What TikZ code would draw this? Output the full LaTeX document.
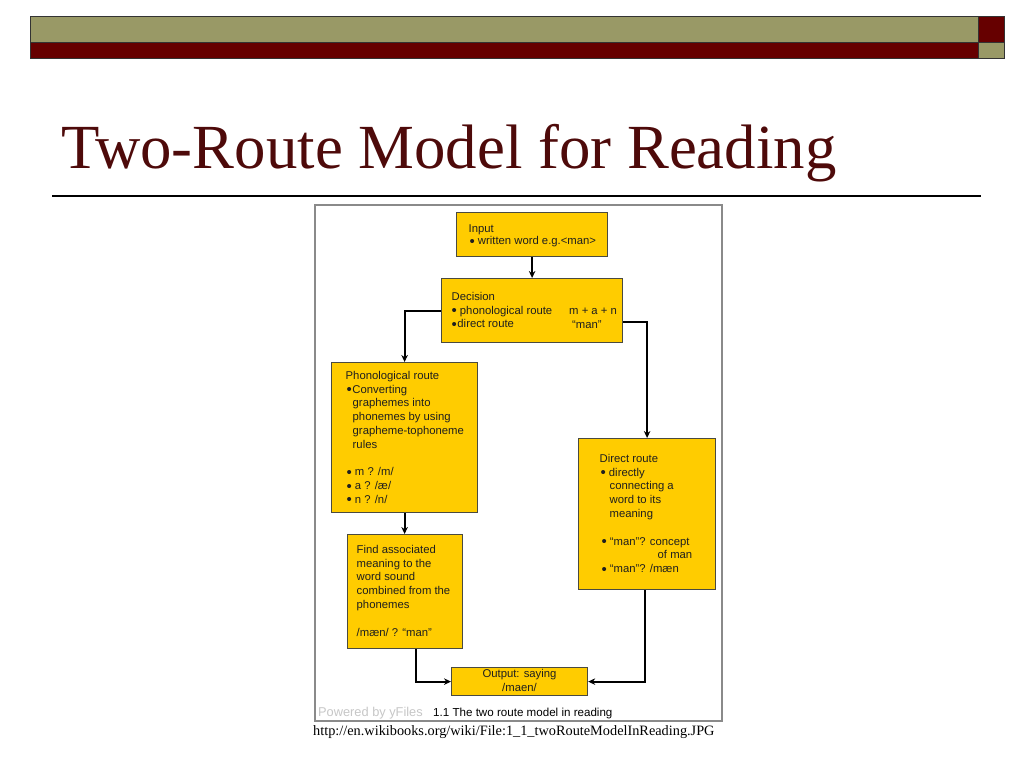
\documentclass[tikz,border=0pt]{standalone}
\usepackage{fontspec}
\setmainfont{Liberation Serif}
\newfontfamily\arialf{Liberation Sans}
\usetikzlibrary{arrows.meta}
\definecolor{olivebar}{HTML}{999966}
\definecolor{darkred}{HTML}{660000}
\definecolor{titlered}{HTML}{4E0A0A}
\definecolor{boxyellow}{HTML}{FFCC00}
\definecolor{boxline}{HTML}{4A4A40}
\definecolor{framegray}{HTML}{8A8A8A}
\newcommand\firstln{\rule{0pt}{9pt}}
\newcommand\bul{\raisebox{-1.4pt}{\fontsize{15}{13.8}\selectfont •}}
\tikzset{
  box/.style={draw=boxline, line width=1.2pt, fill=boxyellow, anchor=north west, inner sep=0pt},
  btext/.style={font=\arialf\fontsize{11.3}{13.8}\selectfont, text=black!88, inner sep=0pt, align=left, anchor=north west},
  conn/.style={draw=black, line width=1.8pt, -{Stealth[length=7pt,width=6.5pt]}},
}
\begin{document}
\begin{tikzpicture}[x=1pt,y=-1pt]
\useasboundingbox (0,0) rectangle (1024,768);
% top bars
\fill[olivebar] (30,16) rectangle (978,42);
\fill[darkred] (30,42) rectangle (978,58);
\fill[darkred] (978,16) rectangle (1004,42);
\fill[olivebar] (978,42) rectangle (1004,58);
\draw[black!80, line width=0.8pt] (30,16) rectangle (978,58);
\draw[black!80, line width=0.8pt] (30,42) -- (978,42);
\draw[black!80, line width=0.8pt] (978,16) rectangle (1004,58);
\draw[black!80, line width=0.8pt] (978,42) -- (1004,42);
% title
\node[anchor=base west, inner sep=0pt, text=titlered, font=\fontsize{62.8}{70}\selectfont] (title) at (61,168) {Two-Route Model for Reading};
\draw[black, line width=1.2pt] (52,196) -- (981,196);
% frame
\draw[framegray, line width=1.5pt, fill=white] (315,205) rectangle (722,721);
% boxes
\node[box, minimum width=151pt, minimum height=44pt] (inp) at (456,212) {};
\node[box, minimum width=181pt, minimum height=64pt] (dec) at (441,278) {};
\node[box, minimum width=146pt, minimum height=150pt] (pho) at (331,362) {};
\node[box, minimum width=137pt, minimum height=151pt] (dir) at (578,438) {};
\node[box, minimum width=115pt, minimum height=114pt] (fin) at (347,534) {};
\node[box, minimum width=136pt, minimum height=28pt] (out) at (451,667) {};
% texts
\node[btext, font=\arialf\fontsize{11.3}{12.4}\selectfont] (tinp) at (468.5,223) {\firstln Input\\\hspace*{1pt}\bul\hspace{3pt}written word e.g.<man>};
\node[btext] (tdec) at (451.5,291) {\firstln Decision\\\bul\hspace{3pt}phonological route\\\bul\hspace{0.5pt}direct route};
\node[btext, anchor=base west] (tdec2) at (569,314) {m + a + n};
\node[btext, anchor=base west] (tdec3) at (572,328) {“man”};
\node[btext] (tpho) at (345.5,370) {\firstln Phonological route\\
\hspace*{1pt}\bul\hspace{0.5pt}Converting\\
\hspace*{7pt}graphemes into\\
\hspace*{7pt}phonemes by using\\
\hspace*{7pt}grapheme-tophoneme\\
\hspace*{7pt}rules\\[13.8pt]
\hspace*{1pt}\bul\hspace{3pt}m ? /m/\\
\hspace*{1pt}\bul\hspace{3pt}a ? /æ/\\
\hspace*{1pt}\bul\hspace{3pt}n ? /n/};
\node[btext] (tdir) at (599.5,453) {\firstln Direct route\\
\hspace*{1pt}\bul\hspace{3pt}directly\\
\hspace*{10pt}connecting a\\
\hspace*{10pt}word to its\\
\hspace*{10pt}meaning\\[13.8pt]
\hspace*{2pt}\bul\hspace{3pt}“man”? concept\\
\hspace*{58pt}of man\\
\hspace*{2pt}\bul\hspace{3pt}“man”? /mæn};
\node[btext] (tfin) at (356.5,544) {\firstln Find associated\\
meaning to the\\
word sound\\
combined from the\\
phonemes\\[13.8pt]
/mæn/ ? “man”};
\node[btext, align=center, anchor=north] (tout) at (519.5,668) {\firstln Output: saying\\/maen/};
% connectors
\draw[conn] (inp.south) -- (dec.north);
\draw[conn] (dec.west) -| (pho.north);
\draw[conn] ([yshift=-11pt]dec.east) -| (dir.north);
\draw[conn] (pho.south) -- (pho.south |- fin.north);
\draw[conn] ([xshift=69pt]fin.south west) |- (out.west);
\draw[conn] ([xshift=67pt]dir.south west) |- (out.east);
% caption
\node[anchor=base west, inner sep=0pt, text=black!22, font=\arialf\fontsize{12.8}{14}\selectfont] (pw) at (318,716) {Powered by yFiles};
\node[anchor=base west, inner sep=0pt, text=black, font=\arialf\fontsize{11.6}{14}\selectfont] (cap) at (433,716) {1.1 The two route model in reading};
\node[anchor=base west, inner sep=0pt, text=black, font=\fontsize{14.3}{16}\selectfont] (url) at (313,735) {http://en.wikibooks.org/wiki/File:1\_1\_twoRouteModelInReading.JPG};
\end{tikzpicture}
\end{document}
